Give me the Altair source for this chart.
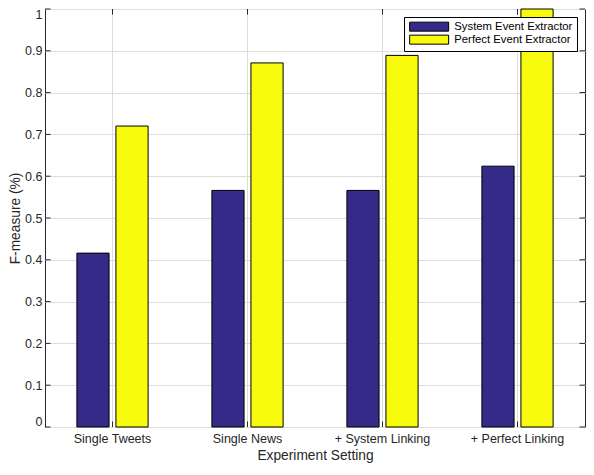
import altair as alt
import pandas as pd

# values
SETTINGS = ["Single Tweets", "Single News", "+ System Linking", "+ Perfect Linking"]
EXTRACTORS = ["System Event Extractor", "Perfect Event Extractor"]
SYSTEM_VALUES = [0.416, 0.566, 0.566, 0.624]
PERFECT_VALUES = [0.720, 0.871, 0.889, 1.0]
Y_TICKS = [0, 0.1, 0.2, 0.3, 0.4, 0.5, 0.6, 0.7, 0.8, 0.9, 1]
COLORS = ["#352a87", "#f9fb0e"]

FONT = "Liberation Sans"
TEXT = "#262626"
GRID = "#dddddd"
W, H = 540, 418
TICK_LEN = 5.5

bars_df = pd.DataFrame({
    "setting": SETTINGS * 2,
    "extractor": [EXTRACTORS[0]] * len(SETTINGS) + [EXTRACTORS[1]] * len(SETTINGS),
    "value": SYSTEM_VALUES + PERFECT_VALUES,
})
ticks_df = pd.DataFrame({"tick": Y_TICKS})
cats_df = pd.DataFrame({"setting": SETTINGS})

# one axis definition per channel, shared by every layer so they merge cleanly
x_axis = alt.Axis(
    title="Experiment Setting", labelAngle=0, ticks=False, domain=False,
    grid=True, gridColor=GRID, labelPadding=5.5,
    titleY=32.5, titleBaseline="alphabetic",
    labelFontSize=12.5, titleFontSize=13.75,
)
y_axis = alt.Axis(
    title="F-measure (%)", values=Y_TICKS, format="~g", ticks=False,
    domain=False, grid=True, gridColor=GRID, labelPadding=3,
    labelFlush=True, labelFlushOffset=1,
    titleX=-30, titleBaseline="middle",
    labelFontSize=12.5, titleFontSize=13.75,
)
x_scale = alt.Scale(domain=SETTINGS, paddingInner=0.4725, paddingOuter=0.23625)
y_scale = alt.Scale(domain=[0, 1], nice=False, zero=True)

bars = (
    alt.Chart(bars_df)
    .mark_bar(stroke="black", strokeWidth=1)
    .encode(
        x=alt.X("setting:N", sort=SETTINGS, scale=x_scale, axis=x_axis),
        xOffset=alt.XOffset(
            "extractor:N",
            sort=EXTRACTORS,
            scale=alt.Scale(domain=EXTRACTORS, paddingInner=0.176, paddingOuter=0),
        ),
        y=alt.Y("value:Q", scale=y_scale, axis=y_axis),
        color=alt.Color(
            "extractor:N",
            sort=EXTRACTORS,
            scale=alt.Scale(domain=EXTRACTORS, range=COLORS),
            legend=alt.Legend(
                title=None, orient="none", legendX=359, legendY=8,
                direction="vertical", fillColor="white", strokeColor="black",
                padding=4, rowPadding=-2,
                symbolType="M-3.9,-0.9L3.9,-0.9L3.9,0.9L-3.9,0.9Z", symbolSize=100,
                symbolStrokeColor="black", symbolStrokeWidth=1, symbolOpacity=1,
                symbolOffset=15.5, labelOffset=19.5, labelFontSize=11.3,
                labelColor="black", labelFont=FONT,
            ),
        ),
    )
)

# inward-pointing ticks, MATLAB style
left_ticks = alt.Chart(ticks_df).mark_rule(color=TEXT, strokeWidth=1).encode(
    y=alt.Y("tick:Q", scale=y_scale, axis=y_axis), x=alt.value(0), x2=alt.value(TICK_LEN)
)
right_ticks = alt.Chart(ticks_df).mark_rule(color=TEXT, strokeWidth=1).encode(
    y=alt.Y("tick:Q", scale=y_scale, axis=y_axis), x=alt.value(W - TICK_LEN), x2=alt.value(W)
)
top_ticks = alt.Chart(cats_df).mark_rule(color=TEXT, strokeWidth=1).encode(
    x=alt.X("setting:N", sort=SETTINGS, scale=x_scale, axis=x_axis),
    y=alt.value(0), y2=alt.value(TICK_LEN),
)
bottom_ticks = alt.Chart(cats_df).mark_rule(color=TEXT, strokeWidth=1).encode(
    x=alt.X("setting:N", sort=SETTINGS, scale=x_scale, axis=x_axis),
    y=alt.value(H - TICK_LEN), y2=alt.value(H),
)

chart = (
    alt.layer(bars, left_ticks, right_ticks, top_ticks, bottom_ticks)
    .properties(
        width=W, height=H,
        padding={"left": 37, "top": 1, "right": 1, "bottom": 36},
        autosize=alt.AutoSizeParams(type="none"),
        background="white",
    )
    .configure(font=FONT)
    .configure_view(stroke=TEXT, strokeWidth=1)
    .configure_axis(labelColor=TEXT, titleColor=TEXT, titleFontWeight="normal",
                    labelFont=FONT, titleFont=FONT)
)

chart.save("out.html", embed_options={"renderer": "svg", "actions": False})
